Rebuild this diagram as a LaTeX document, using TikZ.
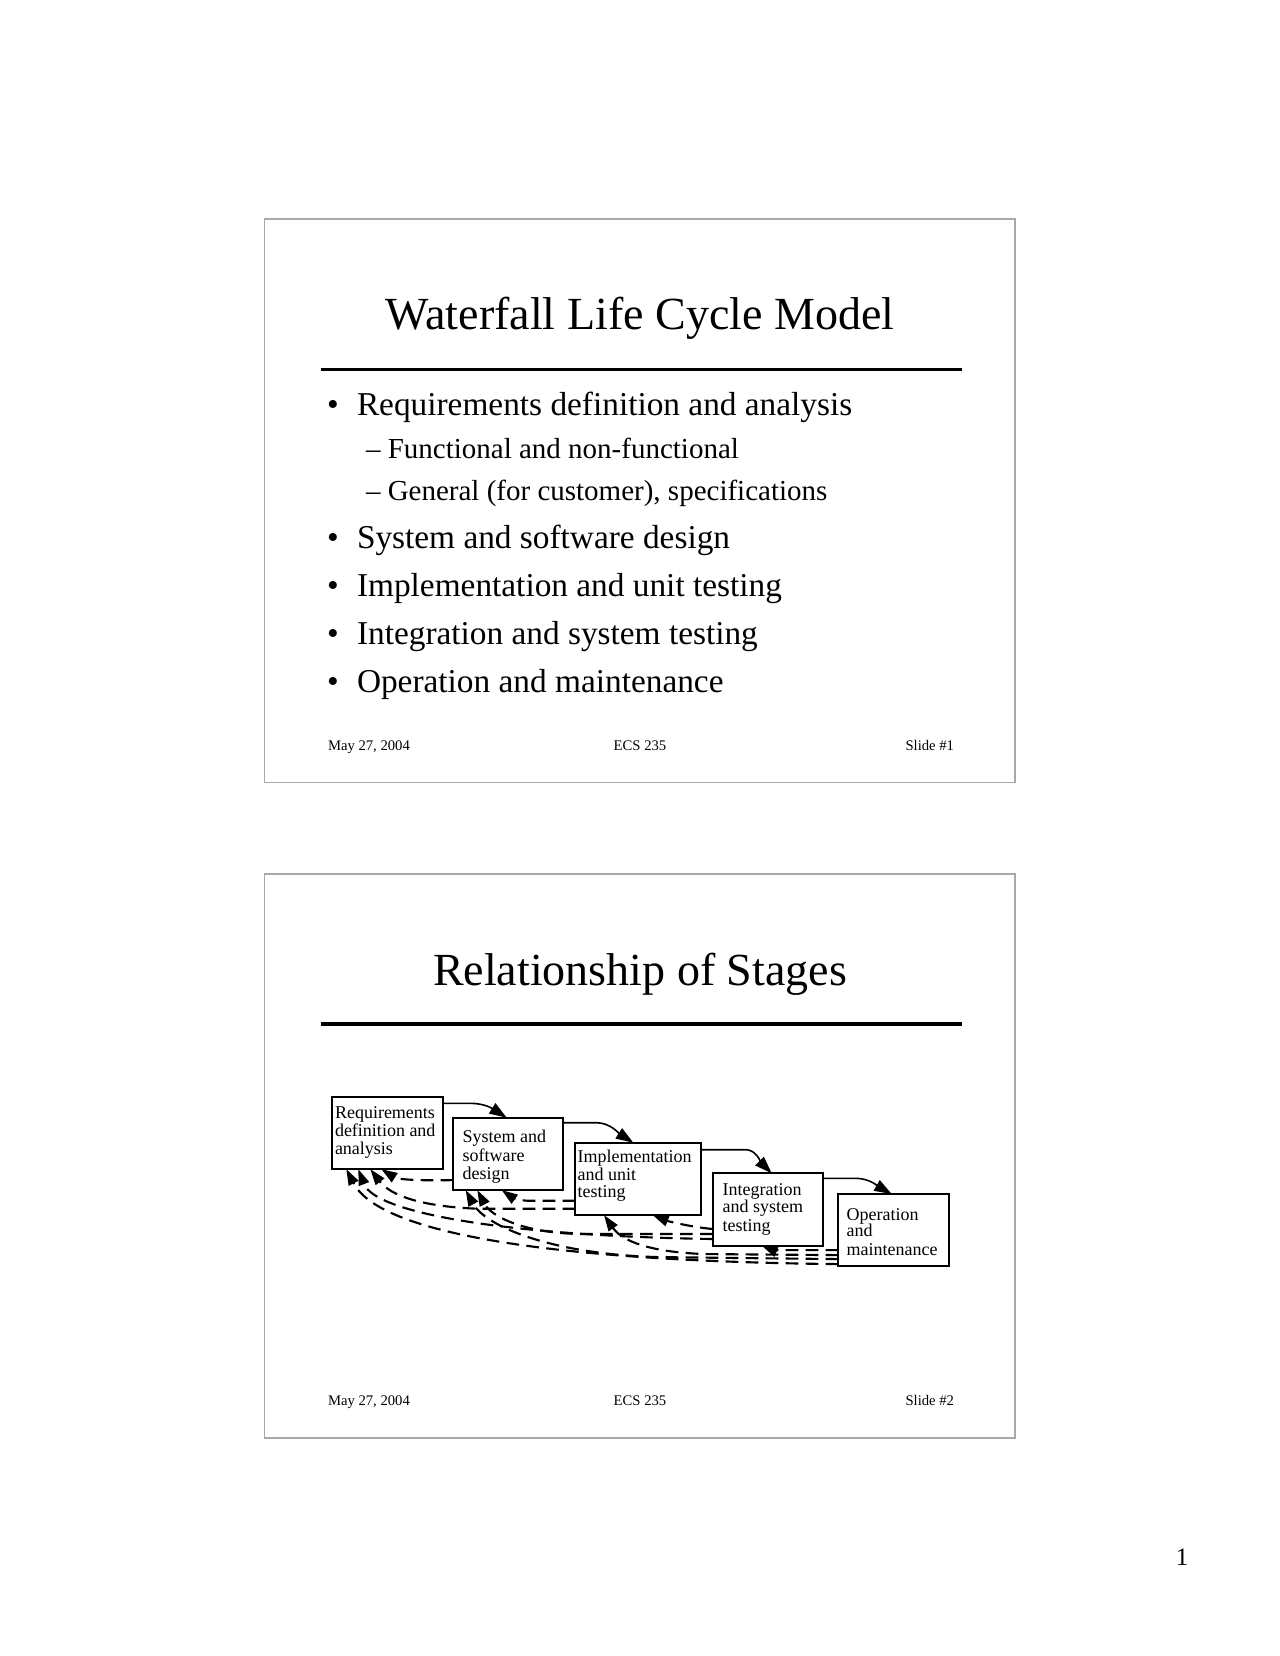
\documentclass[tikz,border=0pt]{standalone}
\usepackage{fontspec}
\setmainfont{Liberation Serif}
\usetikzlibrary{arrows.meta,calc}
\definecolor{framegray}{HTML}{A8A8A8}
\begin{document}
\begin{tikzpicture}[x=0.75pt,y=-0.75pt,
  txt/.style={inner sep=0pt,outer sep=0pt,anchor=base west},
  titlefont/.style={inner sep=0pt,outer sep=0pt,anchor=base,font=\fontsize{34.5pt}{40pt}\selectfont},
  bulletfont/.style={txt,font=\fontsize{25pt}{30pt}\selectfont},
  subfont/.style={txt,font=\fontsize{21.75pt}{26pt}\selectfont},
  footfont/.style={inner sep=0pt,outer sep=0pt,font=\fontsize{11pt}{13pt}\selectfont},
  boxtext/.style={txt,font=\fontsize{13.5pt}{15pt}\selectfont},
  stage/.style={draw,line width=1.6pt,inner sep=0pt,outer sep=0pt,minimum height=54.3pt,anchor=north west},
  fwd/.style={line width=1.2pt,-{Triangle[length=13pt,width=9pt]}},
  fb/.style={line width=1.6pt,dash pattern=on 9.5pt off 5.5pt,-{Triangle[length=12pt,width=8pt]}},
  slideframe/.style={draw=framegray,line width=1pt},
  titlerule/.style={line width=2.5pt}]
\useasboundingbox (0,0) rectangle (1280,1656);
\fill[white] (0,0) rectangle (1280,1656);

% ---------------- Slide 1 ----------------
\draw[slideframe] (264.3,219) rectangle (1015,782.3);
\node[titlefont] (title1) at (640,329) {Waterfall Life Cycle Model};
\draw[titlerule] (320.5,369.3) -- (961.6,369.3);

\node[bulletfont] (bu1) at (327,415) {•};
\node[bulletfont] (l1) at (357,415) {Requirements definition and analysis};
\node[subfont] (s1) at (366,458) {– Functional and non-functional};
\node[subfont] (s2) at (366,500) {– General (for customer), specifications};
\node[bulletfont] (bu2) at (327,548) {•};
\node[bulletfont] (l2) at (357,548) {System and software design};
\node[bulletfont] (bu3) at (327,596) {•};
\node[bulletfont] (l3) at (357,596) {Implementation and unit testing};
\node[bulletfont] (bu4) at (327,644) {•};
\node[bulletfont] (l4) at (357,644) {Integration and system testing};
\node[bulletfont] (bu5) at (327,692) {•};
\node[bulletfont] (l5) at (357,692) {Operation and maintenance};

\node[footfont,anchor=base west] (fa1) at (328,750) {May 27, 2004};
\node[footfont,anchor=base] (fb1) at (640,750) {ECS 235};
\node[footfont,anchor=base east] (fc1) at (954,750) {Slide \#1};

% ---------------- Slide 2 ----------------
\draw[slideframe] (264.3,874) rectangle (1015,1438);
\node[titlefont] (title2) at (640,985) {Relationship of Stages};
\draw[titlerule] (320.5,1024) -- (961.6,1024);

\node[stage,minimum width=83.25pt] (b1) at (332.3,1096.7) {};
\node[stage,minimum width=82.5pt]  (b2) at (453.3,1117.7) {};
\node[stage,minimum width=94.3pt]  (b3) at (575.3,1142.7) {};
\node[stage,minimum width=83pt]    (b4) at (712.7,1173.3) {};
\node[stage,minimum width=83.25pt] (b5) at (838.3,1194) {};

\node[boxtext] (b1a) at (335,1118) {Requirements};
\node[boxtext] (b1b) at (335,1136.7) {definition and};
\node[boxtext] (b1c) at (335,1154) {analysis};
\node[boxtext] (b2a) at (462.7,1142.3) {System and};
\node[boxtext] (b2b) at (462.7,1161.7) {software};
\node[boxtext] (b2c) at (462.7,1179) {design};
\node[boxtext] (b3a) at (577.7,1162.7) {Implementation};
\node[boxtext] (b3b) at (577.7,1180) {and unit};
\node[boxtext] (b3c) at (577.7,1197.3) {testing};
\node[boxtext] (b4a) at (722.7,1195) {Integration};
\node[boxtext] (b4b) at (722.7,1212.7) {and system};
\node[boxtext] (b4c) at (722.7,1231) {testing};
\node[boxtext] (b5a) at (846.7,1220) {Operation};
\node[boxtext] (b5b) at (846.7,1236.7) {and};
\node[boxtext] (b5c) at (846.7,1255) {maintenance};

% forward arrows
\draw[fwd] ($(b1.north east)+(0,6.6)$) -- ++(27,0) .. controls +(14,0) and +(-14,-9) .. ($(b2.north west)+(53.4,0)$);
\draw[fwd] ($(b2.north east)+(0,5)$) -- ++(33,0) .. controls +(14,0) and +(-14,-9) .. ($(b3.north west)+(58,0)$);
\draw[fwd] ($(b3.north east)+(0,7)$) -- ++(45,0) .. controls +(10,0) and +(-10,-10) .. ($(b4.north west)+(59,0)$);
\draw[fwd] ($(b4.north east)+(0,5)$) -- ++(32,0) .. controls +(14,0) and +(-14,-8) .. ($(b5.north west)+(53.4,0)$);

% feedback start points
\coordinate (s21) at ($(b2.south west)+(0,-10)$);
\coordinate (s32) at ($(b3.south west)+(0,-14.3)$);
\coordinate (s31) at ($(b3.south west)+(0,-6.3)$);
\coordinate (s43) at ($(b4.south west)+(0,-16.7)$);
\coordinate (s42) at ($(b4.south west)+(0,-11.7)$);
\coordinate (s41) at ($(b4.south west)+(0,-6.7)$);
\coordinate (s54) at ($(b5.south west)+(0,-16.3)$);
\coordinate (s53) at ($(b5.south west)+(0,-11.3)$);
\coordinate (s52) at ($(b5.south west)+(0,-7.3)$);
\coordinate (s51) at ($(b5.south west)+(0,-2.3)$);
% feedback tips
\coordinate (t21) at ($(b1.south west)+(49,0)$);
\coordinate (t31) at ($(b1.south west)+(38,0)$);
\coordinate (t41) at ($(b1.south west)+(26,0)$);
\coordinate (t51) at ($(b1.south west)+(14,0)$);
\coordinate (t32) at ($(b2.south west)+(48.4,0)$);
\coordinate (t42) at ($(b2.south west)+(24,0)$);
\coordinate (t52) at ($(b2.south west)+(12.4,0)$);
\coordinate (t43) at ($(b3.south west)+(77.4,0)$);
\coordinate (t53) at ($(b3.south west)+(28.7,0)$);
\coordinate (t54) at ($(b4.south west)+(49,0)$);

% feedback arrows
\draw[fb] (s21) .. controls +(-48,1) and +(14,9) .. (t21);
\draw[fb] (s32) -- ++(-45,0) .. controls +(-12,0) and +(10,7) .. (t32);
\draw[fb] (s31) -- ++(-95,0) .. controls +(-60,-2) and +(20,26) .. (t31);
\draw[fb] (s43) .. controls +(-22,-2) and +(15,6) .. (t43);
\draw[fb] (s42) -- ++(-132,0) .. controls +(-60,-1) and +(13,25) .. (t42);
\draw[fb] (s41) .. controls +(-200,-3) and +(17,45) .. (t41);
\draw[fb] (s54) -- ++(-45,0) .. controls +(-12,0) and +(10,4) .. (t54);
\draw[fb] (s53) -- ++(-130,-1) .. controls +(-45,-1) and +(21,30) .. (t53);
\draw[fb] (s52) -- ++(-180,-2) .. controls +(-110,-3) and +(19,35) .. (t52);
\draw[fb] (s51) .. controls +(-280,-3) and +(34,66) .. (t51);

\node[footfont,anchor=base west] (fa2) at (328,1405) {May 27, 2004};
\node[footfont,anchor=base] (fb2) at (640,1405) {ECS 235};
\node[footfont,anchor=base east] (fc2) at (954,1405) {Slide \#2};

\node[inner sep=0pt,anchor=base,font=\fontsize{18.75pt}{22pt}\selectfont] (pagenum) at (1182,1565) {1};
\end{tikzpicture}
\end{document}
